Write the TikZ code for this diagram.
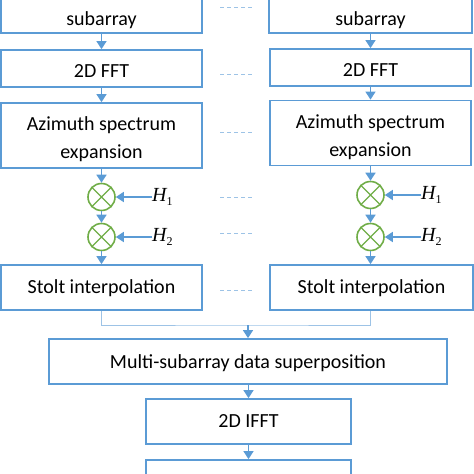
\documentclass[tikz,border=0pt]{standalone}
\usepackage{fontspec}
\setmainfont{Carlito}
\newfontfamily\tnr{Liberation Serif}
\usetikzlibrary{arrows.meta}
\definecolor{boxblue}{HTML}{5B9BD5}
\definecolor{opgreen}{HTML}{70AD47}
\definecolor{dashblue}{HTML}{9DC3E6}
\newcommand{\Hlab}[1]{{\tnr\itshape H\raisebox{-4.5pt}{\upshape\fontsize{12}{12}\selectfont #1}}}
\newcommand{\dn}[2]{\raisebox{-#1}[\height][\depth]{#2}}
\begin{document}
\begin{tikzpicture}[x=1pt,y=-1pt,
  box/.style={draw=boxblue, line width=1.8pt, fill=white, inner sep=0pt, align=center,
    font=\fontsize{20}{28}\selectfont},
  mult/.style={circle, draw=opgreen, line width=1.6pt, minimum size=27pt, inner sep=0pt},
  flow/.style={draw=boxblue, line width=1.6pt, -{Triangle[width=10pt,length=8pt]}, boxblue},
  merge/.style={draw=dashblue, line width=1pt},
  dots/.style={draw=dashblue, line width=0.9pt, dash pattern=on 4pt off 3pt},
  hlab/.style={inner sep=0pt, font=\fontsize{20}{20}\selectfont}]
\useasboundingbox (0,0) rectangle (474,474);
\clip (0,0) rectangle (474,474);
% left column
\node[box, minimum width=201pt, minimum height=65pt, anchor=south] (sub1) at (101.5,34) {\strut\\\dn{3pt}{subarray}};
\node[box, minimum width=201pt, minimum height=37pt] (fft1) at (101.5,68.5) {\dn{2.5pt}{2D FFT}};
\node[box, minimum width=201pt, minimum height=65pt] (az1) at (101.5,135.5) {\dn{4pt}{Azimuth spectrum}\\\dn{4pt}{expansion}};
\node[mult] (m11) at (101.5,197) {};
\node[mult] (m21) at (101.5,237) {};
\node[box, minimum width=201pt, minimum height=45pt] (st1) at (101.5,287.5) {\dn{1pt}{Stolt interpolation}};
% right column
\node[box, minimum width=203pt, minimum height=65pt, anchor=south] (sub2) at (370.5,34) {\strut\\\dn{3pt}{subarray}};
\node[box, minimum width=201pt, minimum height=37pt] (fft2) at (370.5,67.5) {\dn{2.5pt}{2D FFT}};
\node[box, minimum width=201pt, minimum height=65pt] (az2) at (370.5,133) {\dn{4pt}{Azimuth spectrum}\\\dn{4pt}{expansion}};
\node[mult] (m12) at (370.5,195) {};
\node[mult] (m22) at (370.5,237) {};
\node[box, minimum width=203pt, minimum height=45pt] (st2) at (371.5,287.5) {\dn{1pt}{Stolt interpolation}};
% bottom
\node[box, minimum width=398pt, minimum height=45pt] (multi) at (248,361.5) {\dn{1.5pt}{Multi-subarray data superposition}};
\node[box, minimum width=205pt, minimum height=45pt] (ifft) at (248.5,421.5) {2D IFFT};
\node[box, minimum width=205pt, minimum height=45pt] (last) at (248.5,482.5) {};
% crosses
\foreach \m in {m11,m21,m12,m22}{
  \draw[opgreen, line width=1.4pt] (\m.45) -- (\m.225) (\m.135) -- (\m.315);
}
% H labels
\node[hlab, anchor=west] (h11) at (152,197) {\Hlab{1}};
\node[hlab, anchor=west] (h21) at (152,237) {\Hlab{2}};
\node[hlab, anchor=west] (h12) at (421,195) {\Hlab{1}};
\node[hlab, anchor=west] (h22) at (421,237) {\Hlab{2}};
\draw[flow] (h11.west) -- (m11.east);
\draw[flow] (h21.west) -- (m21.east);
\draw[flow] (h12.west) -- (m12.east);
\draw[flow] (h22.west) -- (m22.east);
% vertical flow
\draw[flow] (sub1.south) -- (fft1.north);
\draw[flow] (fft1.south) -- (az1.north);
\draw[flow] (az1.south) -- (m11.north);
\draw[flow] (m11.south) -- (m21.north);
\draw[flow] (m21.south) -- (st1.north);
\draw[flow] (sub2.south) -- (fft2.north);
\draw[flow] (fft2.south) -- (az2.north);
\draw[flow] (az2.south) -- (m12.north);
\draw[flow] (m12.south) -- (m22.north);
\draw[flow] (m22.south) -- (st2.north -| m22);
% merge
\coordinate (mj) at (248,325);
\draw[merge] (st1.south) |- (mj) -| (st2.south -| m22);
\draw[flow] (mj) -- (multi.north);
\draw[flow] (multi.south -| ifft) -- (ifft.north);
\draw[flow] (ifft.south) -- (last.north);
% ellipsis dashes
\foreach \y [count=\i] in {7,74,132,197,233,290}{
  \coordinate (da\i) at (220,\y);
  \coordinate (db\i) at (252,\y);
  \draw[dots] (da\i) -- (db\i);
}
\end{tikzpicture}
\end{document}
